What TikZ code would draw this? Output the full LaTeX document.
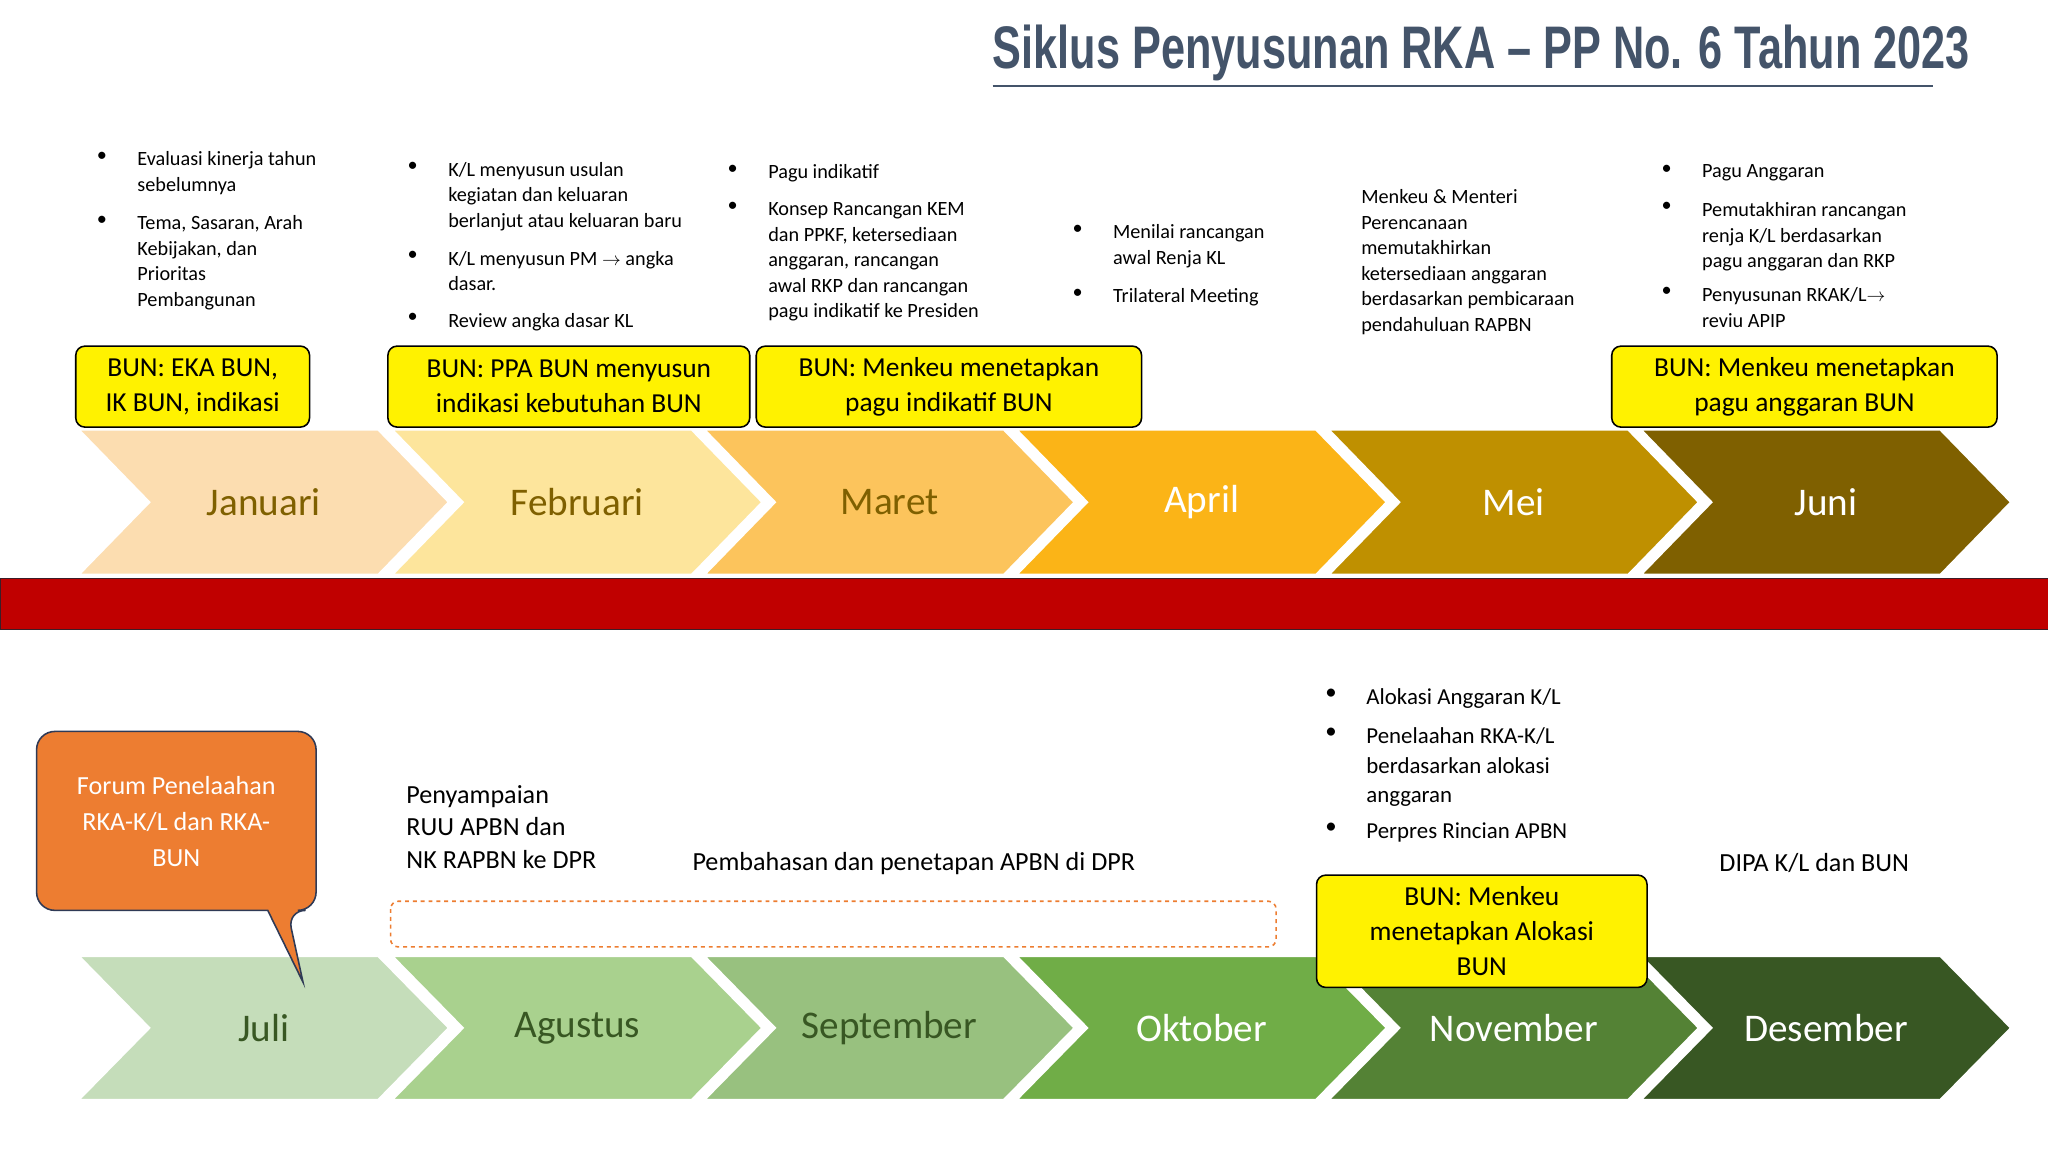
\documentclass[tikz,border=0pt]{standalone}
\usepackage{fontspec}
\setmainfont{Carlito}
\newfontfamily\titlefont[FakeStretch=0.72]{Liberation Sans Bold}
\definecolor{olv}{HTML}{7F6000}
\definecolor{dgr}{HTML}{385723}
\definecolor{ttl}{HTML}{44546A}
\definecolor{c1}{HTML}{FCDDB0}\definecolor{c2}{HTML}{FDE59C}\definecolor{c3}{HTML}{FCC45C}
\definecolor{c4}{HTML}{FBB417}\definecolor{c5}{HTML}{BF9000}\definecolor{c6}{HTML}{7F6000}
\definecolor{d1}{HTML}{C5DDBA}\definecolor{d2}{HTML}{A9D18E}\definecolor{d3}{HTML}{98C17F}
\definecolor{d4}{HTML}{70AD47}\definecolor{d5}{HTML}{548235}\definecolor{d6}{HTML}{385723}
\definecolor{org}{HTML}{ED7D31}\definecolor{cb}{HTML}{2F3A56}
\definecolor{rd}{HTML}{C00000}\definecolor{rdb}{HTML}{3C1E28}
\tikzset{
 x=1pt,y=-1pt,
 chev/.style={draw=white,line width=3.5pt},
 mon/.style={font=\fontsize{30}{34}\selectfont},
 ybox/.style={draw=black,line width=1.2pt,fill=yellow,rounded corners=7pt,font=\fontsize{21}{27}\selectfont,align=center,inner sep=0pt},
 txt/.style={anchor=north west,inner sep=0pt,align=left,font=\fontsize{15.5}{19.5}\selectfont},
 btxt/.style={anchor=north west,inner sep=0pt,align=left,font=\fontsize{17.5}{22.5}\selectfont},
}
\newcommand{\chv}[7]{%
 \fill[#4,chev] (#1,#2) -- (#1+232,#2) -- (#1+287,{(#2+#3)/2}) -- (#1+232,#3) -- (#1,#3) -- (#1+55,{(#2+#3)/2}) -- cycle;
 \node[mon,text=#7] (#5) at (#1+144,{(#2+#3)/2}) {#6};}
\newcommand{\bl}[4]{\node[txt] (#4) at (#1+27,#2) {#3};\node[anchor=north,inner sep=0pt,font=\fontsize{15.5}{19.5}\selectfont] at (#1,#2) {•};}
\newcommand{\blb}[4]{\node[btxt] (#4) at (#1+27,#2) {#3};\node[anchor=north,inner sep=0pt,font=\fontsize{17.5}{22.5}\selectfont] at (#1,#2) {•};}
\begin{document}
\begin{tikzpicture}
\useasboundingbox (0,0) rectangle (1568,882);
\fill[white] (0,0) rectangle (1568,882);
\node[anchor=south west,inner sep=0pt,text=ttl,font=\titlefont\fontsize{46}{50}\selectfont] (title) at (760,62) {Siklus Penyusunan RKA – PP No. 6 Tahun 2023};
\draw[ttl,line width=1.5pt] (760,66) -- (1480,66);
\chv{58}{328}{441}{c1}{jan}{Januari}{olv}
\chv{298}{328}{441}{c2}{feb}{Februari}{olv}
\chv{537}{328}{441}{c3}{mar}{Maret}{olv}
\chv{776}{328}{441}{c4}{apr}{April}{white}
\chv{1015}{328}{441}{c5}{mei}{Mei}{white}
\chv{1254}{328}{441}{c6}{jun}{Juni}{white}
\draw[fill=rd,draw=rdb] (0,443) rectangle (1568,482);
\chv{58}{731}{843}{d1}{jul}{Juli}{dgr}
\chv{298}{731}{843}{d2}{agu}{Agustus}{dgr}
\chv{537}{731}{843}{d3}{sep}{September}{dgr}
\chv{776}{731}{843}{d4}{okt}{Oktober}{white}
\chv{1015}{731}{843}{d5}{nov}{November}{white}
\chv{1254}{731}{843}{d6}{des}{Desember}{white}
\node[ybox,minimum width=179,minimum height=62] (y1) at (147.5,296) {BUN: EKA BUN,\\IK BUN, indikasi};
\node[ybox,minimum width=277,minimum height=62] (y2) at (435.5,296) {BUN: PPA BUN menyusun\\indikasi kebutuhan BUN};
\node[ybox,minimum width=295,minimum height=62] (y3) at (726.5,296) {BUN: Menkeu menetapkan\\pagu indikatif BUN};
\node[ybox,minimum width=295,minimum height=62] (y4) at (1381.5,296) {BUN: Menkeu menetapkan\\pagu anggaran BUN};
\node[ybox,minimum width=253,minimum height=86] (y5) at (1134.5,713) {BUN: Menkeu\\menetapkan Alokasi\\BUN};
\bl{78}{116}{Evaluasi kinerja tahun\\sebelumnya}{a1}
\bl{78}{165}{Tema, Sasaran, Arah\\Kebijakan, dan\\Prioritas\\Pembangunan}{a2}
\bl{316}{124}{K/L menyusun usulan\\kegiatan dan keluaran\\berlanjut atau keluaran baru}{b1}
\bl{316}{192}{K/L menyusun PM $\rightarrow$ angka\\dasar.}{b2}
\bl{316}{240}{Review angka dasar KL}{b3}
\bl{561}{126}{Pagu indikatif}{c1t}
\bl{561}{155}{Konsep Rancangan KEM\\dan PPKF, ketersediaan\\anggaran, rancangan\\awal RKP dan rancangan\\pagu indikatif ke Presiden}{c2t}
\bl{825}{172}{Menilai rancangan\\awal Renja KL}{d1t}
\bl{825}{221}{Trilateral Meeting}{d2t}
\node[txt] (e1) at (1042,145) {Menkeu \& Menteri\\Perencanaan\\memutakhirkan\\ketersediaan anggaran\\berdasarkan pembicaraan\\pendahuluan RAPBN};
\bl{1276}{126}{Pagu Anggaran}{f1}
\bl{1276}{155}{Pemutakhiran rancangan\\renja K/L berdasarkan\\pagu anggaran dan RKP}{f2}
\bl{1276}{220}{Penyusunan RKAK/L$\rightarrow$\\reviu APIP}{f3}
\blb{1019}{527}{Alokasi Anggaran K/L}{g1}
\blb{1019}{557}{ Penelaahan RKA-K/L\\berdasarkan alokasi\\anggaran}{g2}
\blb{1019}{630}{Perpres Rincian APBN}{g3}
\node[anchor=north west,inner sep=0pt,align=left,font=\fontsize{20}{25}\selectfont] (p1) at (311,601) {Penyampaian\\RUU APBN dan\\NK RAPBN ke DPR};
\node[anchor=west,inner sep=0pt,font=\fontsize{20}{25}\selectfont] (p2) at (530,661) {Pembahasan dan penetapan APBN di DPR};
\node[inner sep=0pt,font=\fontsize{20}{25}\selectfont] (p3) at (1389,661) {DIPA K/L dan BUN};
\draw[dashed,draw=org,line width=1.2pt,rounded corners=6pt] (299,690) rectangle (977,725);
\draw[fill=org,draw=cb,line width=1.2pt,rounded corners=14pt] (28,560) -- (242,560) -- (242,697) -- (220,697) [sharp corners] -- (232,752) -- (205,697) [rounded corners=14pt] -- (28,697) -- cycle;
\node[align=center,text=white,font=\fontsize{20}{27.5}\selectfont] (fp) at (135,629) {Forum Penelaahan\\RKA-K/L dan RKA-\\BUN};
\end{tikzpicture}
\end{document}
